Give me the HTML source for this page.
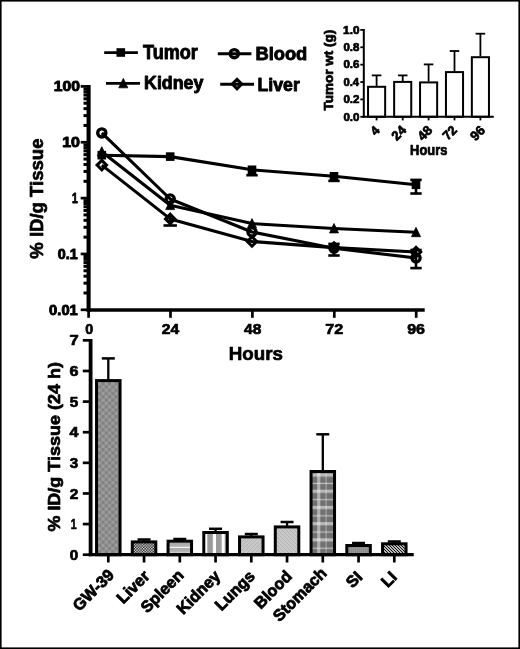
<!DOCTYPE html>
<html lang="en"><head><meta charset="utf-8"><title>Biodistribution figure</title>
<style>html,body{margin:0;padding:0;background:#fff}svg{display:block}text{font-family:"Liberation Sans",Arial,Helvetica,sans-serif;font-weight:bold;fill:#000;stroke:#000;stroke-linejoin:round}</style>
</head><body>
<svg width="520" height="649" viewBox="0 0 520 649">
<defs>
<pattern id="pChk" width="6.6" height="6.6" patternUnits="userSpaceOnUse" x="98" y="382"><rect width="6.6" height="6.6" fill="#828282"/><rect width="3.3" height="3.3" fill="#9c9c9c"/><rect x="3.3" y="3.3" width="3.3" height="3.3" fill="#9c9c9c"/></pattern>
<pattern id="pDot" width="2.7" height="2.7" patternUnits="userSpaceOnUse"><rect width="2.7" height="2.7" fill="#000"/><rect width="1.35" height="1.35" fill="#fff"/><rect x="1.35" y="1.35" width="1.35" height="1.35" fill="#fff"/></pattern>
<pattern id="pH" width="4" height="5.6" patternUnits="userSpaceOnUse" y="542.5"><rect width="4" height="5.6" fill="#fff"/><rect width="4" height="4.4" fill="#a6a6a6"/><rect y="1.6" width="4" height="0.5" fill="#c4c4c4"/><rect y="3.0" width="4" height="0.5" fill="#c4c4c4"/></pattern>
<pattern id="pV" width="8.7" height="4" patternUnits="userSpaceOnUse" x="207.3"><rect width="8.7" height="4" fill="#fff"/><rect width="5.6" height="4" fill="#9a9a9a"/></pattern>
<pattern id="pD1" width="4" height="4" patternUnits="userSpaceOnUse"><rect width="4" height="4" fill="#c8c8c8"/><path d="M-1 1L1 -1M0 4L4 0M3 5L5 3" stroke="#b4b4b4" stroke-width="1"/></pattern>
<pattern id="pD2" width="4" height="4" patternUnits="userSpaceOnUse"><rect width="4" height="4" fill="#c8c8c8"/><path d="M-1 3L1 5M0 0L4 4M3 -1L5 1" stroke="#b4b4b4" stroke-width="1"/></pattern>
<pattern id="pPlaid" width="16.2" height="16.2" patternUnits="userSpaceOnUse" x="309.5" y="473.5"><rect width="16.2" height="16.2" fill="#707070"/><rect x="7.7" y="0" width="3.1" height="16.2" fill="#fff" fill-opacity="0.45"/><rect x="16.0" y="0" width="1.2" height="16.2" fill="#fff" fill-opacity="0.45"/><rect x="-0.2" y="0" width="1.0" height="16.2" fill="#fff" fill-opacity="0.45"/><rect y="0" x="0" height="3.2" width="16.2" fill="#fff" fill-opacity="0.5"/><rect y="9.3" x="0" height="1.3" width="16.2" fill="#fff" fill-opacity="0.5"/></pattern>
<pattern id="pSI" width="2" height="2" patternUnits="userSpaceOnUse"><rect width="2" height="2" fill="#8c8c8c"/><rect width="1" height="1" fill="#a0a0a0"/></pattern>
<pattern id="pLI" width="3" height="3" patternUnits="userSpaceOnUse"><rect width="3" height="3" fill="#fff"/><path d="M-1 2L1 4M0 0L3 3M2 -1L4 1" stroke="#000" stroke-width="1.05"/></pattern>
</defs>
<rect x="0" y="0" width="520" height="649" fill="#fff"/>
<rect x="0" y="0" width="520" height="649" fill="none" stroke="#000" stroke-width="3.2"/>
<line x1="88.60" y1="85.00" x2="88.60" y2="311.80" stroke="#000" stroke-width="4.1" />
<line x1="86.70" y1="310.00" x2="424.70" y2="310.00" stroke="#000" stroke-width="3.6" />
<line x1="80.70" y1="86.40" x2="88.60" y2="86.40" stroke="#000" stroke-width="2.7" />
<line x1="83.50" y1="125.44" x2="88.60" y2="125.44" stroke="#000" stroke-width="3.0" />
<line x1="83.50" y1="115.60" x2="88.60" y2="115.60" stroke="#000" stroke-width="3.0" />
<line x1="83.50" y1="108.62" x2="88.60" y2="108.62" stroke="#000" stroke-width="3.0" />
<line x1="83.50" y1="103.21" x2="88.60" y2="103.21" stroke="#000" stroke-width="3.0" />
<line x1="83.50" y1="98.79" x2="88.60" y2="98.79" stroke="#000" stroke-width="3.0" />
<line x1="83.50" y1="95.05" x2="88.60" y2="95.05" stroke="#000" stroke-width="3.0" />
<line x1="83.50" y1="91.81" x2="88.60" y2="91.81" stroke="#000" stroke-width="3.0" />
<line x1="83.50" y1="88.96" x2="88.60" y2="88.96" stroke="#000" stroke-width="3.0" />
<line x1="80.70" y1="142.25" x2="88.60" y2="142.25" stroke="#000" stroke-width="2.7" />
<line x1="83.50" y1="181.29" x2="88.60" y2="181.29" stroke="#000" stroke-width="3.0" />
<line x1="83.50" y1="171.45" x2="88.60" y2="171.45" stroke="#000" stroke-width="3.0" />
<line x1="83.50" y1="164.47" x2="88.60" y2="164.47" stroke="#000" stroke-width="3.0" />
<line x1="83.50" y1="159.06" x2="88.60" y2="159.06" stroke="#000" stroke-width="3.0" />
<line x1="83.50" y1="154.64" x2="88.60" y2="154.64" stroke="#000" stroke-width="3.0" />
<line x1="83.50" y1="150.90" x2="88.60" y2="150.90" stroke="#000" stroke-width="3.0" />
<line x1="83.50" y1="147.66" x2="88.60" y2="147.66" stroke="#000" stroke-width="3.0" />
<line x1="83.50" y1="144.81" x2="88.60" y2="144.81" stroke="#000" stroke-width="3.0" />
<line x1="80.70" y1="198.10" x2="88.60" y2="198.10" stroke="#000" stroke-width="2.7" />
<line x1="83.50" y1="237.14" x2="88.60" y2="237.14" stroke="#000" stroke-width="3.0" />
<line x1="83.50" y1="227.30" x2="88.60" y2="227.30" stroke="#000" stroke-width="3.0" />
<line x1="83.50" y1="220.32" x2="88.60" y2="220.32" stroke="#000" stroke-width="3.0" />
<line x1="83.50" y1="214.91" x2="88.60" y2="214.91" stroke="#000" stroke-width="3.0" />
<line x1="83.50" y1="210.49" x2="88.60" y2="210.49" stroke="#000" stroke-width="3.0" />
<line x1="83.50" y1="206.75" x2="88.60" y2="206.75" stroke="#000" stroke-width="3.0" />
<line x1="83.50" y1="203.51" x2="88.60" y2="203.51" stroke="#000" stroke-width="3.0" />
<line x1="83.50" y1="200.66" x2="88.60" y2="200.66" stroke="#000" stroke-width="3.0" />
<line x1="80.70" y1="253.95" x2="88.60" y2="253.95" stroke="#000" stroke-width="2.7" />
<line x1="83.50" y1="292.99" x2="88.60" y2="292.99" stroke="#000" stroke-width="3.0" />
<line x1="83.50" y1="283.15" x2="88.60" y2="283.15" stroke="#000" stroke-width="3.0" />
<line x1="83.50" y1="276.17" x2="88.60" y2="276.17" stroke="#000" stroke-width="3.0" />
<line x1="83.50" y1="270.76" x2="88.60" y2="270.76" stroke="#000" stroke-width="3.0" />
<line x1="83.50" y1="266.34" x2="88.60" y2="266.34" stroke="#000" stroke-width="3.0" />
<line x1="83.50" y1="262.60" x2="88.60" y2="262.60" stroke="#000" stroke-width="3.0" />
<line x1="83.50" y1="259.36" x2="88.60" y2="259.36" stroke="#000" stroke-width="3.0" />
<line x1="83.50" y1="256.51" x2="88.60" y2="256.51" stroke="#000" stroke-width="3.0" />
<line x1="80.70" y1="309.80" x2="88.60" y2="309.80" stroke="#000" stroke-width="2.7" />
<text transform="translate(53.78 91.25) scale(1.042 1)" font-size="15.07" stroke-width="1.0">100</text>
<text transform="translate(62.16 147.15) scale(1.053 1)" font-size="15.21" stroke-width="1.0">10</text>
<text transform="translate(71.93 203.00) scale(0.666 1)" font-size="15.51" stroke-width="1.0">1</text>
<text transform="translate(57.83 258.75) scale(0.943 1)" font-size="15.21" stroke-width="1.0">0.1</text>
<text transform="translate(49.11 314.65) scale(0.960 1)" font-size="15.35" stroke-width="1.0">0.01</text>
<line x1="88.60" y1="310.00" x2="88.60" y2="317.80" stroke="#000" stroke-width="2.7" />
<text transform="translate(85.18 333.50) scale(0.959 1)" font-size="14.93" stroke-width="0.7">0</text>
<line x1="170.50" y1="310.00" x2="170.50" y2="317.80" stroke="#000" stroke-width="2.7" />
<text transform="translate(161.80 333.65) scale(1.037 1)" font-size="15.14" stroke-width="0.7">24</text>
<line x1="252.40" y1="310.00" x2="252.40" y2="317.80" stroke="#000" stroke-width="2.7" />
<text transform="translate(244.12 333.50) scale(1.038 1)" font-size="14.93" stroke-width="0.7">48</text>
<line x1="334.30" y1="310.00" x2="334.30" y2="317.80" stroke="#000" stroke-width="2.7" />
<text transform="translate(325.32 333.65) scale(1.069 1)" font-size="15.14" stroke-width="0.7">72</text>
<line x1="416.20" y1="310.00" x2="416.20" y2="317.80" stroke="#000" stroke-width="2.7" />
<text transform="translate(407.19 333.50) scale(1.069 1)" font-size="14.93" stroke-width="0.7">96</text>
<text transform="translate(228.83 359.66) scale(0.986 1)" font-size="19.00" stroke-width="0.7">Hours</text>
<text transform="translate(42.81 258.71) rotate(-90) scale(1.014 1)" font-size="18.29" stroke-width="0.7">% ID/g Tissue</text>
<line x1="170.20" y1="216.00" x2="170.20" y2="225.50" stroke="#000" stroke-width="2.6" />
<line x1="163.50" y1="225.50" x2="176.90" y2="225.50" stroke="#000" stroke-width="2.6" />
<line x1="252.00" y1="166.00" x2="252.00" y2="175.20" stroke="#000" stroke-width="2.6" />
<line x1="246.30" y1="175.20" x2="257.70" y2="175.20" stroke="#000" stroke-width="2.6" />
<line x1="334.00" y1="173.00" x2="334.00" y2="180.90" stroke="#000" stroke-width="2.6" />
<line x1="328.30" y1="180.90" x2="339.70" y2="180.90" stroke="#000" stroke-width="2.6" />
<line x1="416.00" y1="179.90" x2="416.00" y2="193.50" stroke="#000" stroke-width="2.6" />
<line x1="410.30" y1="179.90" x2="421.70" y2="179.90" stroke="#000" stroke-width="2.6" />
<line x1="410.30" y1="193.50" x2="421.70" y2="193.50" stroke="#000" stroke-width="2.6" />
<line x1="334.00" y1="243.90" x2="334.00" y2="255.50" stroke="#000" stroke-width="2.6" />
<line x1="328.30" y1="243.90" x2="339.70" y2="243.90" stroke="#000" stroke-width="2.6" />
<line x1="328.30" y1="255.50" x2="339.70" y2="255.50" stroke="#000" stroke-width="2.6" />
<line x1="416.00" y1="250.00" x2="416.00" y2="268.10" stroke="#000" stroke-width="2.6" />
<line x1="410.30" y1="250.00" x2="421.70" y2="250.00" stroke="#000" stroke-width="2.6" />
<line x1="410.30" y1="268.10" x2="421.70" y2="268.10" stroke="#000" stroke-width="2.6" />
<polyline points="101.8,155.2 170.2,156.6 252.0,169.8 334.0,176.3 416.0,184.8" fill="none" stroke="#000" stroke-width="3.1" stroke-linejoin="round"/>
<polyline points="101.8,151.7 170.2,205.2 252.0,223.6 334.0,228.5 416.0,232.3" fill="none" stroke="#000" stroke-width="3.1" stroke-linejoin="round"/>
<polyline points="101.8,132.9 170.2,199.0 252.0,232.0 334.0,248.3 416.0,258.0" fill="none" stroke="#000" stroke-width="3.1" stroke-linejoin="round"/>
<polyline points="101.8,165.1 170.2,218.9 252.0,241.5 334.0,247.6 416.0,252.0" fill="none" stroke="#000" stroke-width="3.1" stroke-linejoin="round"/>
<rect x="97.50" y="150.90" width="8.6" height="8.6" fill="#000"/>
<rect x="165.90" y="152.30" width="8.6" height="8.6" fill="#000"/>
<rect x="247.70" y="165.50" width="8.6" height="8.6" fill="#000"/>
<rect x="329.70" y="172.00" width="8.6" height="8.6" fill="#000"/>
<rect x="411.70" y="180.50" width="8.6" height="8.6" fill="#000"/>
<polygon points="101.80,146.70 106.30,156.10 97.30,156.10" fill="#000" stroke="#000" stroke-width="0.8" stroke-linejoin="round"/>
<polygon points="170.20,200.20 174.70,209.60 165.70,209.60" fill="#000" stroke="#000" stroke-width="0.8" stroke-linejoin="round"/>
<polygon points="252.00,218.60 256.50,228.00 247.50,228.00" fill="#000" stroke="#000" stroke-width="0.8" stroke-linejoin="round"/>
<polygon points="334.00,223.50 338.50,232.90 329.50,232.90" fill="#000" stroke="#000" stroke-width="0.8" stroke-linejoin="round"/>
<polygon points="416.00,227.30 420.50,236.70 411.50,236.70" fill="#000" stroke="#000" stroke-width="0.8" stroke-linejoin="round"/>
<circle cx="101.80" cy="132.90" r="4.1" fill="none" stroke="#000" stroke-width="3.3"/>
<circle cx="170.20" cy="199.00" r="4.1" fill="none" stroke="#000" stroke-width="3.3"/>
<circle cx="252.00" cy="232.00" r="4.1" fill="none" stroke="#000" stroke-width="3.3"/>
<circle cx="334.00" cy="248.30" r="4.1" fill="none" stroke="#000" stroke-width="3.3"/>
<circle cx="416.00" cy="258.00" r="4.1" fill="none" stroke="#000" stroke-width="3.3"/>
<polygon points="101.80,160.40 106.50,165.10 101.80,169.80 97.10,165.10" fill="none" stroke="#000" stroke-width="3.0" stroke-linejoin="miter"/>
<polygon points="170.20,214.20 174.90,218.90 170.20,223.60 165.50,218.90" fill="none" stroke="#000" stroke-width="3.0" stroke-linejoin="miter"/>
<polygon points="252.00,236.80 256.70,241.50 252.00,246.20 247.30,241.50" fill="none" stroke="#000" stroke-width="3.0" stroke-linejoin="miter"/>
<polygon points="334.00,242.90 338.70,247.60 334.00,252.30 329.30,247.60" fill="none" stroke="#000" stroke-width="3.0" stroke-linejoin="miter"/>
<polygon points="416.00,247.30 420.70,252.00 416.00,256.70 411.30,252.00" fill="none" stroke="#000" stroke-width="3.0" stroke-linejoin="miter"/>
<line x1="104.20" y1="52.60" x2="137.90" y2="52.60" stroke="#000" stroke-width="2.9" />
<rect x="116.50" y="48.20" width="8.6" height="8.6" fill="#000"/>
<text transform="translate(143.07 58.96) scale(0.929 1)" font-size="19.43" stroke-width="0.9">Tumor</text>
<line x1="106.00" y1="83.40" x2="140.00" y2="83.40" stroke="#000" stroke-width="2.9" />
<polygon points="123.30,78.40 127.80,87.80 118.80,87.80" fill="#000" stroke="#000" stroke-width="0.8" stroke-linejoin="round"/>
<text transform="translate(144.09 89.48) scale(0.990 1)" font-size="17.97" stroke-width="0.9">Kidney</text>
<line x1="217.80" y1="53.70" x2="251.40" y2="53.70" stroke="#000" stroke-width="2.9" />
<circle cx="234.30" cy="53.65" r="4.1" fill="none" stroke="#000" stroke-width="3.3"/>
<text transform="translate(255.46 60.06) scale(0.982 1)" font-size="18.64" stroke-width="0.9">Blood</text>
<line x1="220.20" y1="84.20" x2="254.00" y2="84.20" stroke="#000" stroke-width="2.9" />
<polygon points="237.00,79.40 241.70,84.10 237.00,88.80 232.30,84.10" fill="none" stroke="#000" stroke-width="3.0" stroke-linejoin="miter"/>
<text transform="translate(257.50 90.76) scale(0.950 1)" font-size="18.64" stroke-width="0.9">Liver</text>
<line x1="363.80" y1="29.00" x2="363.80" y2="117.70" stroke="#000" stroke-width="2.0" />
<line x1="360.30" y1="116.80" x2="363.80" y2="116.80" stroke="#000" stroke-width="1.8" />
<text transform="translate(343.39 120.54) scale(1.049 1)" font-size="10.99" stroke-width="0.7">0.0</text>
<line x1="360.30" y1="99.42" x2="363.80" y2="99.42" stroke="#000" stroke-width="1.8" />
<text transform="translate(343.39 103.16) scale(1.049 1)" font-size="10.99" stroke-width="0.7">0.2</text>
<line x1="360.30" y1="82.04" x2="363.80" y2="82.04" stroke="#000" stroke-width="1.8" />
<text transform="translate(343.40 85.78) scale(1.022 1)" font-size="10.99" stroke-width="0.7">0.4</text>
<line x1="360.30" y1="64.66" x2="363.80" y2="64.66" stroke="#000" stroke-width="1.8" />
<text transform="translate(343.39 68.40) scale(1.045 1)" font-size="10.99" stroke-width="0.7">0.6</text>
<line x1="360.30" y1="47.28" x2="363.80" y2="47.28" stroke="#000" stroke-width="1.8" />
<text transform="translate(343.39 51.02) scale(1.041 1)" font-size="10.99" stroke-width="0.7">0.8</text>
<line x1="360.30" y1="29.90" x2="363.80" y2="29.90" stroke="#000" stroke-width="1.8" />
<text transform="translate(343.09 33.64) scale(1.070 1)" font-size="10.99" stroke-width="0.7">1.0</text>
<line x1="376.60" y1="75.40" x2="376.60" y2="85.90" stroke="#000" stroke-width="1.8" />
<line x1="371.80" y1="75.40" x2="381.40" y2="75.40" stroke="#000" stroke-width="1.8" />
<rect x="368.05" y="86.80" width="17.1" height="30.00" fill="#fff" stroke="#000" stroke-width="2.0"/>
<line x1="376.60" y1="116.80" x2="376.60" y2="120.40" stroke="#000" stroke-width="1.8" />
<text transform="translate(380.64 131.22) rotate(-45)" text-anchor="end" font-size="12.78" stroke-width="0.7">4</text>
<line x1="402.70" y1="75.40" x2="402.70" y2="81.00" stroke="#000" stroke-width="1.8" />
<line x1="397.90" y1="75.40" x2="407.50" y2="75.40" stroke="#000" stroke-width="1.8" />
<rect x="394.15" y="81.90" width="17.1" height="34.90" fill="#fff" stroke="#000" stroke-width="2.0"/>
<line x1="402.70" y1="116.80" x2="402.70" y2="120.40" stroke="#000" stroke-width="1.8" />
<text transform="translate(407.06 130.94) rotate(-45)" text-anchor="end" font-size="13.06" stroke-width="0.7">24</text>
<line x1="428.60" y1="64.40" x2="428.60" y2="81.50" stroke="#000" stroke-width="1.8" />
<line x1="423.80" y1="64.40" x2="433.40" y2="64.40" stroke="#000" stroke-width="1.8" />
<rect x="420.05" y="82.40" width="17.1" height="34.40" fill="#fff" stroke="#000" stroke-width="2.0"/>
<line x1="428.60" y1="116.80" x2="428.60" y2="120.40" stroke="#000" stroke-width="1.8" />
<text transform="translate(433.10 131.03) rotate(-45)" text-anchor="end" font-size="13.18" stroke-width="0.7">48</text>
<line x1="454.50" y1="51.00" x2="454.50" y2="71.20" stroke="#000" stroke-width="1.8" />
<line x1="449.70" y1="51.00" x2="459.30" y2="51.00" stroke="#000" stroke-width="1.8" />
<rect x="445.95" y="72.10" width="17.1" height="44.70" fill="#fff" stroke="#000" stroke-width="2.0"/>
<line x1="454.50" y1="116.80" x2="454.50" y2="120.40" stroke="#000" stroke-width="1.8" />
<text transform="translate(457.73 130.88) rotate(-45)" text-anchor="end" font-size="12.70" stroke-width="0.7">72</text>
<line x1="480.40" y1="33.70" x2="480.40" y2="56.30" stroke="#000" stroke-width="1.8" />
<line x1="475.60" y1="33.70" x2="485.20" y2="33.70" stroke="#000" stroke-width="1.8" />
<rect x="471.85" y="57.20" width="17.1" height="59.60" fill="#fff" stroke="#000" stroke-width="2.0"/>
<line x1="480.40" y1="116.80" x2="480.40" y2="120.40" stroke="#000" stroke-width="1.8" />
<text transform="translate(485.84 131.07) rotate(-45)" text-anchor="end" font-size="13.22" stroke-width="0.7">96</text>
<line x1="362.80" y1="116.80" x2="493.80" y2="116.80" stroke="#000" stroke-width="2.0" />
<text transform="translate(410.11 154.91) scale(0.930 1)" font-size="13.86" stroke-width="0.7">Hours</text>
<text transform="translate(333.09 110.38) rotate(-90) scale(1.026 1)" font-size="13.16" stroke-width="0.7">Tumor wt (g)</text>
<line x1="90.60" y1="338.96" x2="90.60" y2="556.20" stroke="#000" stroke-width="3.8" />
<line x1="82.80" y1="554.70" x2="90.60" y2="554.70" stroke="#000" stroke-width="2.7" />
<text transform="translate(69.84 559.61) scale(1.066 1)" font-size="14.23" stroke-width="0.7">0</text>
<line x1="82.80" y1="524.08" x2="90.60" y2="524.08" stroke="#000" stroke-width="2.7" />
<text transform="translate(70.67 529.13) scale(0.720 1)" font-size="14.64" stroke-width="0.7">1</text>
<line x1="82.80" y1="493.46" x2="90.60" y2="493.46" stroke="#000" stroke-width="2.7" />
<text transform="translate(69.71 498.51) scale(1.068 1)" font-size="14.43" stroke-width="0.7">2</text>
<line x1="82.80" y1="462.84" x2="90.60" y2="462.84" stroke="#000" stroke-width="2.7" />
<text transform="translate(69.87 467.75) scale(1.065 1)" font-size="14.23" stroke-width="0.7">3</text>
<line x1="82.80" y1="432.22" x2="90.60" y2="432.22" stroke="#000" stroke-width="2.7" />
<text transform="translate(69.41 437.27) scale(1.098 1)" font-size="14.64" stroke-width="0.7">4</text>
<line x1="82.80" y1="401.60" x2="90.60" y2="401.60" stroke="#000" stroke-width="2.7" />
<text transform="translate(69.79 406.51) scale(1.053 1)" font-size="14.43" stroke-width="0.7">5</text>
<line x1="82.80" y1="370.98" x2="90.60" y2="370.98" stroke="#000" stroke-width="2.7" />
<text transform="translate(69.49 375.89) scale(1.131 1)" font-size="14.23" stroke-width="0.7">6</text>
<line x1="82.80" y1="340.36" x2="90.60" y2="340.36" stroke="#000" stroke-width="2.7" />
<text transform="translate(69.40 345.41) scale(1.131 1)" font-size="14.64" stroke-width="0.7">7</text>
<line x1="108.30" y1="358.40" x2="108.30" y2="380.10" stroke="#000" stroke-width="2.3" />
<line x1="101.80" y1="358.40" x2="114.80" y2="358.40" stroke="#000" stroke-width="2.5" />
<rect x="96.55" y="380.60" width="23.50" height="174.10" fill="url(#pChk)" stroke="#000" stroke-width="3"/>
<line x1="108.30" y1="554.70" x2="108.30" y2="562.50" stroke="#000" stroke-width="2.7" />
<text transform="translate(115.12 575.98) rotate(-45)" text-anchor="end" font-size="16.15" stroke-width="0.8">GW-39</text>
<line x1="144.05" y1="539.50" x2="144.05" y2="541.40" stroke="#000" stroke-width="2.3" />
<line x1="137.55" y1="539.50" x2="150.55" y2="539.50" stroke="#000" stroke-width="2.5" />
<rect x="132.30" y="541.90" width="23.50" height="12.80" fill="url(#pDot)" stroke="#000" stroke-width="3"/>
<line x1="144.05" y1="554.70" x2="144.05" y2="562.50" stroke="#000" stroke-width="2.7" />
<text transform="translate(150.60 577.09) rotate(-45)" text-anchor="end" font-size="16.15" stroke-width="0.8">Liver</text>
<line x1="179.80" y1="539.00" x2="179.80" y2="540.70" stroke="#000" stroke-width="2.3" />
<line x1="173.30" y1="539.00" x2="186.30" y2="539.00" stroke="#000" stroke-width="2.5" />
<rect x="168.05" y="541.20" width="23.50" height="13.50" fill="url(#pH)" stroke="#000" stroke-width="3"/>
<line x1="179.80" y1="554.70" x2="179.80" y2="562.50" stroke="#000" stroke-width="2.7" />
<text transform="translate(184.63 576.36) rotate(-45)" text-anchor="end" font-size="16.15" stroke-width="0.8">Spleen</text>
<line x1="215.55" y1="528.80" x2="215.55" y2="532.00" stroke="#000" stroke-width="2.3" />
<line x1="209.05" y1="528.80" x2="222.05" y2="528.80" stroke="#000" stroke-width="2.5" />
<rect x="203.80" y="532.50" width="23.50" height="22.20" fill="url(#pV)" stroke="#000" stroke-width="3"/>
<line x1="215.55" y1="554.70" x2="215.55" y2="562.50" stroke="#000" stroke-width="2.7" />
<text transform="translate(221.35 577.08) rotate(-45)" text-anchor="end" font-size="16.15" stroke-width="0.8">Kidney</text>
<line x1="251.30" y1="534.00" x2="251.30" y2="536.40" stroke="#000" stroke-width="2.3" />
<line x1="244.80" y1="534.00" x2="257.80" y2="534.00" stroke="#000" stroke-width="2.5" />
<rect x="239.55" y="536.90" width="23.50" height="17.80" fill="url(#pD1)" stroke="#000" stroke-width="3"/>
<line x1="251.30" y1="554.70" x2="251.30" y2="562.50" stroke="#000" stroke-width="2.7" />
<text transform="translate(255.83 577.14) rotate(-45)" text-anchor="end" font-size="16.15" stroke-width="0.8">Lungs</text>
<line x1="287.05" y1="522.00" x2="287.05" y2="526.40" stroke="#000" stroke-width="2.3" />
<line x1="280.55" y1="522.00" x2="293.55" y2="522.00" stroke="#000" stroke-width="2.5" />
<rect x="275.30" y="526.90" width="23.50" height="27.80" fill="url(#pD2)" stroke="#000" stroke-width="3"/>
<line x1="287.05" y1="554.70" x2="287.05" y2="562.50" stroke="#000" stroke-width="2.7" />
<text transform="translate(293.01 577.33) rotate(-45)" text-anchor="end" font-size="16.15" stroke-width="0.8">Blood</text>
<line x1="322.80" y1="434.30" x2="322.80" y2="471.00" stroke="#000" stroke-width="2.3" />
<line x1="316.30" y1="434.30" x2="329.30" y2="434.30" stroke="#000" stroke-width="2.5" />
<rect x="311.05" y="471.50" width="23.50" height="83.20" fill="url(#pPlaid)" stroke="#000" stroke-width="3"/>
<line x1="322.80" y1="554.70" x2="322.80" y2="562.50" stroke="#000" stroke-width="2.7" />
<text transform="translate(327.61 574.18) rotate(-45)" text-anchor="end" font-size="16.15" stroke-width="0.8">Stomach</text>
<line x1="358.55" y1="543.00" x2="358.55" y2="545.00" stroke="#000" stroke-width="2.3" />
<line x1="352.05" y1="543.00" x2="365.05" y2="543.00" stroke="#000" stroke-width="2.5" />
<rect x="346.80" y="545.50" width="23.50" height="9.20" fill="url(#pSI)" stroke="#000" stroke-width="3"/>
<line x1="358.55" y1="554.70" x2="358.55" y2="562.50" stroke="#000" stroke-width="2.7" />
<text transform="translate(363.31 578.03) rotate(-45)" text-anchor="end" font-size="16.15" stroke-width="0.8">SI</text>
<line x1="394.30" y1="541.50" x2="394.30" y2="543.30" stroke="#000" stroke-width="2.3" />
<line x1="387.80" y1="541.50" x2="400.80" y2="541.50" stroke="#000" stroke-width="2.5" />
<rect x="382.55" y="543.80" width="23.50" height="10.90" fill="url(#pLI)" stroke="#000" stroke-width="3"/>
<line x1="394.30" y1="554.70" x2="394.30" y2="562.50" stroke="#000" stroke-width="2.7" />
<text transform="translate(397.91 578.03) rotate(-45)" text-anchor="end" font-size="16.15" stroke-width="0.8">LI</text>
<line x1="88.70" y1="554.70" x2="413.70" y2="554.70" stroke="#000" stroke-width="3.2" />
<text transform="translate(59.56 531.60) rotate(-90) scale(1.051 1)" font-size="17.11" stroke-width="0.7">% ID/g Tissue (24 h)</text>
</svg>
</body></html>
